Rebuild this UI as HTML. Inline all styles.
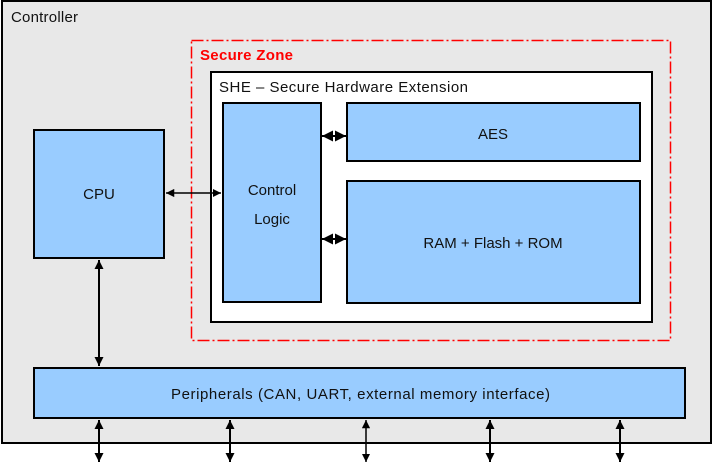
<!DOCTYPE html><html><head><style>body{margin:0;width:714px;height:463px;background:#fff;overflow:hidden}text{font-family:"Liberation Sans",sans-serif;font-size:15px;fill:#111}</style></head><body>
<svg width="714" height="463" xmlns="http://www.w3.org/2000/svg">
<defs><marker id="a" viewBox="0 0 10 10" refX="10" refY="5" markerWidth="5.5" markerHeight="5.5" orient="auto-start-reverse"><path d="M0,0L10,5L0,10z" fill="#000"/></marker>
<marker id="b" viewBox="0 0 10 10" refX="10" refY="5" markerWidth="4.5" markerHeight="4.5" orient="auto-start-reverse"><path d="M0,0L10,5L0,10z" fill="#000"/></marker></defs>
<rect x="2" y="1" width="709" height="442" fill="#e8e8e8" stroke="#000" stroke-width="2"/>
<text x="11" y="22" textLength="67">Controller</text>
<rect x="191.5" y="40.5" width="479" height="300" fill="none" stroke="#f00" stroke-width="1.5" stroke-dasharray="12,3,2,3"/>
<text x="200" y="60" style="fill:#f00;font-weight:bold" textLength="93">Secure Zone</text>
<rect x="211" y="72" width="441" height="250" fill="#fff" stroke="#000" stroke-width="2"/>
<text x="219" y="92" textLength="249">SHE – Secure Hardware Extension</text>
<rect x="223" y="103" width="98" height="199" fill="#99ccff" stroke="#000" stroke-width="2"/>
<text x="272" y="195" text-anchor="middle">Control</text>
<text x="272" y="224" text-anchor="middle">Logic</text>
<rect x="347" y="103" width="293" height="58" fill="#99ccff" stroke="#000" stroke-width="2"/>
<text x="493" y="139" text-anchor="middle">AES</text>
<rect x="347" y="181" width="293" height="122" fill="#99ccff" stroke="#000" stroke-width="2"/>
<text x="493" y="248" text-anchor="middle">RAM + Flash + ROM</text>
<rect x="34" y="130" width="130" height="128" fill="#99ccff" stroke="#000" stroke-width="2"/>
<text x="99" y="199" text-anchor="middle">CPU</text>
<rect x="34" y="368" width="651" height="50" fill="#99ccff" stroke="#000" stroke-width="2"/>
<text x="171" y="399" textLength="379">Peripherals (CAN, UART, external memory interface)</text>
<g stroke="#000" stroke-width="1.5" fill="none">
<line x1="166" y1="193" x2="221" y2="193" marker-start="url(#a)" marker-end="url(#a)"/>
<line x1="322" y1="136" x2="346" y2="136" stroke-width="2" marker-start="url(#a)" marker-end="url(#a)"/>
<line x1="322" y1="239" x2="346" y2="239" stroke-width="2" marker-start="url(#a)" marker-end="url(#a)"/>
<line x1="99" y1="260" x2="99" y2="366" stroke-width="2" marker-start="url(#b)" marker-end="url(#b)"/>
<line x1="99" y1="420" x2="99" y2="462" stroke-width="2" marker-start="url(#b)" marker-end="url(#b)"/>
<line x1="230" y1="420" x2="230" y2="462" stroke-width="2" marker-start="url(#b)" marker-end="url(#b)"/>
<line x1="366" y1="420" x2="366" y2="462" marker-start="url(#a)" marker-end="url(#a)"/>
<line x1="490" y1="420" x2="490" y2="462" stroke-width="2" marker-start="url(#b)" marker-end="url(#b)"/>
<line x1="620" y1="420" x2="620" y2="462" stroke-width="2" marker-start="url(#b)" marker-end="url(#b)"/>
</g>
</svg></body></html>
